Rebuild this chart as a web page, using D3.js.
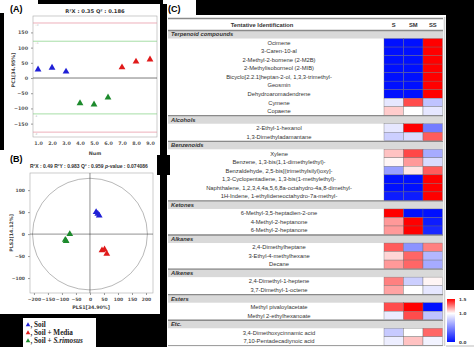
<!DOCTYPE html>
<html lang="en">
<head>
<meta charset="UTF-8">
<title>Volatile profiles: PCA, PLS-DA and heatmap</title>
<style>
  body { margin: 0; background: #fff; }
  svg { display: block; }
  .tick text { font-family: "DejaVu Sans", sans-serif; font-weight: bold; fill: #555; }
  .panel-tag { font-family: "Liberation Sans", Arial, sans-serif; font-weight: bold; font-size: 9px; }
  .plot-title { font-family: "DejaVu Sans", sans-serif; font-weight: bold; font-size: 5.2px; fill: #333; }
  .axis-title { font-family: "DejaVu Sans", sans-serif; font-weight: bold; font-size: 4.8px; fill: #444; }
  .tbl { font-family: "Liberation Sans", Arial, sans-serif; font-size: 5.8px; fill: #333; }
</style>
</head>
<body>
<svg id="fig" width="474" height="347"></svg>
<script src="https://cdn.jsdelivr.net/npm/d3@7"></script>
<script>
// ---- (A) PCA score plot ----
const pcaNum   = [1, 2, 3, 4, 5, 6, 7, 8, 9];
const pcaScore = [28, 34, 21, -83, -87, -64, 35, 54, 61];
const pcaGroup = ["S", "S", "S", "SS", "SS", "SS", "SM", "SM", "SM"];
const pcaXTicks = [1, 2, 3, 4, 5, 6, 7, 8, 9];
const pcaYTicks = [-150, -100, -50, 0, 50, 100, 150];
const pcaLimits95 = [121, -118];   // green control lines
const pcaLimits99 = [181, -178];   // pink control lines

// ---- (B) PLS-DA score plot ----
const plsX = [22, 28, 33, 43, 52, 60, -88, -72, -85];
const plsY = [50, 46, 42, -37, -35, -45, -13, 0, -16];
const plsGroup = ["S", "S", "S", "SM", "SM", "SM", "SS", "SS", "SS"];
const plsXTicks = [-200, -150, -100, -50, 0, 50, 100, 150, 200];
const plsYTicks = [-100, -50, 0, 50, 100];
const plsEllipse = [205, 127];     // radii in score units

// ---- (C) heatmap of tentative identifications ----
const classes = ["Terpenoid compounds", "Alcohols", "Benzenoids", "Ketones", "Alkanes", "Alkenes", "Esters", "Etc."];
const compounds = [
  "Ocimene", "3-Caren-10-al", "2-Methyl-2-bornene (2-M2B)", "2-Methylisoborneol (2-MIB)",
  "Bicyclo[2.2.1]heptan-2-ol, 1,3,3-trimethyl-", "Geosmin", "Dehydroaromadendrene", "Cymene", "Copaene",
  "2-Ethyl-1-hexanol", "1,3-Dimethyladamantane",
  "Xylene", "Benzene, 1,3-bis(1,1-dimethylethyl)-", "Benzaldehyde, 2,5-bis[(trimethylsilyl)oxy]-",
  "1,3-Cyclopentadiene, 1,3-bis(1-methylethyl)-", "Naphthalene, 1,2,3,4,4a,5,6,8a-octahydro-4a,8-dimethyl-",
  "1H-Indene, 1-ethylideneoctahydro-7a-methyl-",
  "6-Methyl-3,5-heptadien-2-one", "4-Methyl-2-heptanone", "6-Methyl-2-heptanone",
  "2,4-Dimethylheptane", "3-Ethyl-4-methylhexane", "Decane",
  "2,4-Dimethyl-1-heptene", "3,7-Dimethyl-1-octene",
  "Methyl pivaloylacetate", "Methyl 2-ethylhexanoate",
  "3,4-Dimethoxycinnamic acid", "7,10-Pentadecadiynoic acid"
];
const compoundClass = [0,0,0,0,0,0,0,0,0, 1,1, 2,2,2,2,2,2, 3,3,3, 4,4,4, 5,5, 6,6, 7,7];
const sampleCols = ["S", "SM", "SS"];
const valS  = [0, 0, 0, 0, 0, 0, 0, 0.9, 1.1, 0.9, 0.8, 1.12, 1.02, 0.6, 0, 0, 0.05, 1.5, 1.2, 1.2, 1.32, 1.08, 1.2, 1.25, 1.18, 1.35, 0.92, 0.78, 0.93];
const valSM = [0, 0, 0, 0, 0, 0, 0, 1.35, 1.0, 1.5, 0.85, 1.36, 1.2, 1.05, 0, 0, 0.05, 0, 1.5, 1.5, 0.55, 1.3, 1.3, 0.8, 1.0, 1.5, 1.35, 1.0, 1.12];
const valSS = [1.5, 1.5, 1.5, 1.5, 1.5, 1.5, 1.5, 0.75, 0.9, 0.45, 1.32, 0.65, 0.85, 1.32, 1.5, 1.5, 1.5, 0, 0.05, 0.1, 1.25, 0.7, 0.65, 1.02, 0.9, 0, 0.75, 1.3, 0.95];
const scaleTicks = [0, 1, 1.5];

const groupColor = { S: "#1f1fd6", SM: "#e01a1a", SS: "#1c8a2c" };
const svg = d3.select("#fig");
const tri = d3.symbol().type(d3.symbolTriangle).size(20);

// ================= (A) =================
svg.append("text").attr("class", "panel-tag").attr("x", 10).attr("y", 12).text("(A)");
svg.append("text").attr("class", "plot-title").attr("x", 95).attr("y", 13).attr("text-anchor", "middle")
  .text("R²X : 0.35 Q² : 0.186");

const ax = d3.scaleLinear().domain([0.64, 9.5]).range([33, 157]);
const ay = d3.scaleLinear().domain([-194, 204]).range([137, 16]);
const gA = svg.append("g");

gA.append("rect").attr("x", 33).attr("y", 16).attr("width", 124).attr("height", 121)
  .attr("fill", "#fff").attr("stroke", "#aaa").attr("stroke-width", 0.6);

pcaLimits99.forEach(v => gA.append("line").attr("x1", 33).attr("x2", 157)
  .attr("y1", ay(v)).attr("y2", ay(v)).attr("stroke", "#e89aa8").attr("stroke-width", 0.8));
pcaLimits95.forEach(v => gA.append("line").attr("x1", 33).attr("x2", 157)
  .attr("y1", ay(v)).attr("y2", ay(v)).attr("stroke", "#7fd07f").attr("stroke-width", 0.7));
gA.append("line").attr("x1", 33).attr("x2", 157).attr("y1", ay(0)).attr("y2", ay(0))
  .attr("stroke", "#222").attr("stroke-width", 0.6);

// tiny limit tags on the left of each control line
const limitTags = [[pcaLimits99[0], "+2"], [pcaLimits95[0], "+1"], [pcaLimits95[1], "-1"], [pcaLimits99[1], "-2"]];
gA.selectAll("text.lim").data(limitTags).join("text")
  .attr("class", "lim").attr("x", 35).attr("y", d => ay(d[0]) + 3)
  .attr("font-size", 2.4).attr("fill", "#999").attr("font-family", "DejaVu Sans").text(d => d[1]);

gA.append("g").attr("transform", "translate(0,137)")
  .call(d3.axisBottom(ax).tickValues(pcaXTicks).tickFormat(d3.format(".1f")).tickSize(0).tickPadding(5))
  .call(g => g.select(".domain").remove())
  .selectAll("text").attr("font-size", 4.8);
gA.append("g").attr("transform", "translate(33,0)")
  .call(d3.axisLeft(ay).tickValues(pcaYTicks).tickSize(2).tickPadding(3))
  .call(g => g.select(".domain").remove())
  .call(g => g.selectAll("line").attr("stroke", "#999"))
  .selectAll("text").attr("font-size", 4.8);

gA.append("text").attr("class", "axis-title").attr("x", 95).attr("y", 155).attr("text-anchor", "middle").text("Num");
gA.append("text").attr("class", "axis-title").attr("text-anchor", "middle")
  .attr("transform", "translate(15,70) rotate(-90)").text("PC1[34.95%]");

gA.selectAll("path.pt").data(pcaNum).join("path")
  .attr("class", "pt").attr("d", tri)
  .attr("transform", (d, i) => `translate(${ax(d)},${ay(pcaScore[i])})`)
  .attr("fill", (d, i) => groupColor[pcaGroup[i]]);

// ================= (B) =================
svg.append("text").attr("class", "panel-tag").attr("x", 10).attr("y", 162).text("(B)");
svg.append("text").attr("x", 30).attr("y", 168)
  .attr("font-family", "Liberation Sans, Arial, sans-serif").attr("font-weight", "bold")
  .attr("font-size", 5).attr("fill", "#333")
  .html("R²X : 0.49 R²Y : 0.983 Q² : 0.959 <tspan font-style='italic'>p</tspan>-value : 0.074086");

const bx = d3.scaleLinear().domain([-214, 225]).range([30, 153]);
const by = d3.scaleLinear().domain([-134, 139]).range([293, 173]);
const gB = svg.append("g");

gB.append("rect").attr("x", 30).attr("y", 173).attr("width", 123).attr("height", 120)
  .attr("fill", "#fff").attr("stroke", "#aaa").attr("stroke-width", 0.6);
gB.append("ellipse").attr("cx", bx(0)).attr("cy", by(0))
  .attr("rx", bx(plsEllipse[0]) - bx(0)).attr("ry", by(0) - by(plsEllipse[1]))
  .attr("fill", "none").attr("stroke", "#888").attr("stroke-width", 0.6);
gB.append("line").attr("x1", bx(0)).attr("x2", bx(0)).attr("y1", 173).attr("y2", 293)
  .attr("stroke", "#222").attr("stroke-width", 0.5);
gB.append("line").attr("x1", 30).attr("x2", 153).attr("y1", by(0)).attr("y2", by(0))
  .attr("stroke", "#222").attr("stroke-width", 0.5);

gB.append("g").attr("transform", "translate(0,293)")
  .call(d3.axisBottom(bx).tickValues(plsXTicks).tickSize(2).tickPadding(3))
  .call(g => g.select(".domain").remove())
  .call(g => g.selectAll("line").attr("stroke", "#999"))
  .selectAll("text").attr("font-size", 4.5);
gB.append("g").attr("transform", "translate(30,0)")
  .call(d3.axisLeft(by).tickValues(plsYTicks).tickSize(2).tickPadding(3))
  .call(g => g.select(".domain").remove())
  .call(g => g.selectAll("line").attr("stroke", "#999"))
  .selectAll("text").attr("font-size", 4.5);

gB.append("text").attr("class", "axis-title").attr("x", 91).attr("y", 309).attr("text-anchor", "middle").text("PLS1[34.90%]");
gB.append("text").attr("class", "axis-title").attr("text-anchor", "middle")
  .attr("transform", "translate(13,233) rotate(-90)").text("PLS2[14.12%]");

gB.selectAll("path.pt").data(plsX).join("path")
  .attr("class", "pt").attr("d", tri)
  .attr("transform", (d, i) => `translate(${bx(d)},${by(plsY[i])})`)
  .attr("fill", (d, i) => groupColor[plsGroup[i]]);

// ================= (C) =================
svg.append("text").attr("class", "panel-tag").attr("x", 168).attr("y", 12).text("(C)");

const tLeft = 168, tRight = 443;
const rows = [];
classes.forEach((c, ci) => {
  rows.push({ type: "class", name: c });
  compounds.forEach((n, k) => {
    if (compoundClass[k] === ci) rows.push({ type: "cmp", name: n, vals: [valS[k], valSM[k], valSS[k]] });
  });
});

const ry = d3.scaleBand().domain(d3.range(rows.length)).range([30, 345.3]);
const cx = d3.scaleBand().domain(sampleCols).range([384, 442.5]);
const heat = d3.scaleLinear().domain([0, 1, 1.5]).range(["#0010ff", "#ffffff", "#ff0000"]);

const gC = svg.append("g");
gC.append("rect").attr("x", tLeft).attr("y", 15).attr("width", tRight - tLeft + 3).attr("height", 332).attr("fill", "#fff");
gC.append("line").attr("x1", tLeft).attr("x2", tRight).attr("y1", 18.5).attr("y2", 18.5)
  .attr("stroke", "#8a8a8a").attr("stroke-width", 1.6);
gC.append("line").attr("x1", tRight + 1.5).attr("x2", tRight + 1.5).attr("y1", 17).attr("y2", 346)
  .attr("stroke", "#cfcfcf").attr("stroke-width", 1.6);

gC.append("text").attr("class", "tbl").attr("x", 262).attr("y", 27).attr("text-anchor", "middle")
  .attr("font-weight", "bold").attr("font-size", 5.9).attr("fill", "#222").text("Tentative Identification");
gC.selectAll("text.colhead").data(sampleCols).join("text")
  .attr("class", "tbl colhead").attr("x", d => cx(d) + cx.bandwidth() / 2).attr("y", 27)
  .attr("text-anchor", "middle").attr("font-weight", "bold").attr("font-size", 5.9)
  .attr("fill", d => groupColor[d]).text(d => d);

const classRows = rows.map((r, i) => ({ ...r, i })).filter(r => r.type === "class");
const cmpRows = rows.map((r, i) => ({ ...r, i })).filter(r => r.type === "cmp");

gC.selectAll("rect.band").data(classRows).join("rect")
  .attr("class", "band").attr("x", tLeft).attr("y", d => ry(d.i))
  .attr("width", tRight - tLeft).attr("height", ry.bandwidth()).attr("fill", "#d9d9d9");
gC.selectAll("line.bandtop").data(classRows).join("line")
  .attr("class", "bandtop").attr("x1", tLeft).attr("x2", tRight)
  .attr("y1", d => ry(d.i) + 0.5).attr("y2", d => ry(d.i) + 0.5)
  .attr("stroke", "#8a8a8a").attr("stroke-width", 1.3);
gC.selectAll("text.cls").data(classRows).join("text")
  .attr("class", "tbl cls").attr("x", tLeft + 3).attr("y", d => ry(d.i) + ry.bandwidth() / 2 + 2.2)
  .attr("font-weight", "bold").attr("font-style", "italic").attr("font-size", 5.5).attr("fill", "#222").text(d => d.name);

gC.selectAll("text.cmp").data(cmpRows).join("text")
  .attr("class", "tbl cmp").attr("x", 279).attr("y", d => ry(d.i) + ry.bandwidth() / 2 + 2.1)
  .attr("text-anchor", "middle").text(d => d.name);

const cells = cmpRows.flatMap(r => r.vals.map((v, j) => ({ i: r.i, col: sampleCols[j], v })));
gC.selectAll("rect.cell").data(cells).join("rect")
  .attr("class", "cell").attr("x", d => cx(d.col)).attr("y", d => ry(d.i))
  .attr("width", cx.bandwidth()).attr("height", ry.bandwidth())
  .attr("fill", d => heat(d.v)).attr("stroke", "#6a6a6a").attr("stroke-width", 0.35);

gC.append("line").attr("x1", tLeft).attr("x2", tRight).attr("y1", 345.6).attr("y2", 345.6)
  .attr("stroke", "#8a8a8a").attr("stroke-width", 0.9);

// colour key
const defs = svg.append("defs");
const grad = defs.append("linearGradient").attr("id", "heatKey").attr("x1", 0).attr("x2", 0).attr("y1", 1).attr("y2", 0);
const keyY = d3.scaleLinear().domain([0, 1.5]).range([342, 299]);
[0, 0.25, 0.5, 0.75, 1, 1.15, 1.3, 1.5].forEach(v => grad.append("stop")
  .attr("offset", (v / 1.5 * 100) + "%").attr("stop-color", heat(v)));
const gK = svg.append("g");
gK.append("rect").attr("x", 446).attr("y", 290).attr("width", 28).attr("height", 57).attr("fill", "#fff");
gK.append("rect").attr("x", 447).attr("y", keyY(1.5)).attr("width", 8).attr("height", keyY(0) - keyY(1.5))
  .attr("fill", "url(#heatKey)");
gK.selectAll("text").data(scaleTicks).join("text")
  .attr("x", 459).attr("y", d => keyY(d) + 1.5)
  .attr("font-family", "DejaVu Sans").attr("font-weight", "bold").attr("font-size", 4.2).attr("fill", "#444")
  .text(d3.format(".1f"));
gK.append("line").attr("x1", 446).attr("x2", 474).attr("y1", 346).attr("y2", 346).attr("stroke", "#bbb");

// black gutters around the panels (drawn on top so they clip overflowing titles)
const blocks = [
  [38, 0, 125, 4], [0, 13, 4, 137], [160, 4, 7, 343], [157, 155, 13, 20],
  [196, 0, 278, 15], [446, 15, 28, 275],
  [0, 314, 23, 33], [96, 314, 64, 33], [23, 314, 73, 4]
];
svg.selectAll("rect.gutter").data(blocks).join("rect")
  .attr("class", "gutter")
  .attr("x", d => d[0]).attr("y", d => d[1])
  .attr("width", d => d[2]).attr("height", d => d[3])
  .attr("fill", "#000");

// legend for the score plots
const legendItems = [
  { key: "S", label: ", Soil" },
  { key: "SM", label: ", Soil + Media" },
  { key: "SS", label: ", Soil + ", italic: "S.rimosus" }
];
const gL = svg.append("g");
gL.append("rect").attr("x", 23).attr("y", 318).attr("width", 73).attr("height", 29).attr("fill", "#fff");
const li = gL.selectAll("g").data(legendItems).join("g")
  .attr("transform", (d, i) => `translate(28,${325 + i * 8})`);
li.append("path").attr("d", d3.symbol().type(d3.symbolTriangle).size(9)).attr("fill", d => groupColor[d.key]);
li.append("text").attr("x", 2.5).attr("y", 2.3)
  .attr("font-family", "Liberation Serif, serif").attr("font-weight", "bold").attr("font-size", 7.2).attr("fill", "#222")
  .each(function (d) {
    const t = d3.select(this);
    t.append("tspan").text(d.label);
    if (d.italic) t.append("tspan").attr("font-style", "italic").text(d.italic);
  });
</script>
</body>
</html>
